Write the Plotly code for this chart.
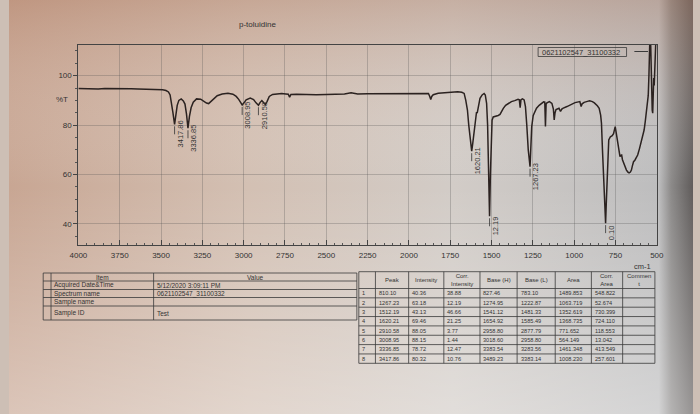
import base64
import math
import plotly.graph_objects as go

# ---------------- data ----------------
title_text = "p-toluidine"
spectrum_name = "0621102547_31100332"
x_tick_unit = "cm-1"
y_axis_label = "%T"

wavenumber = [
    4000, 3960, 3920, 3880, 3840, 3800, 3760, 3720, 3680, 3640, 3600, 3560, 3520, 3490, 3470, 3455, 3445,
    3437, 3428, 3417.86, 3410, 3402, 3392, 3378, 3365, 3355, 3346, 3336.85, 3328, 3318, 3305, 3285, 3260,
    3240, 3225, 3212, 3198, 3180, 3160, 3130, 3095, 3065, 3045, 3030, 3018, 3008.95, 2998, 2985, 2960,
    2940, 2925, 2910.58, 2900, 2890, 2878, 2868, 2858, 2845, 2825, 2800, 2770, 2745, 2730, 2722, 2714,
    2680, 2620, 2560, 2500, 2450, 2390, 2350, 2310, 2250, 2200, 2150, 2100, 2050, 2000, 1950, 1900,
    1882, 1874, 1868, 1862, 1853, 1823, 1764, 1705, 1680, 1666, 1656, 1646, 1638, 1631, 1625, 1620.21,
    1614, 1606, 1600, 1595, 1591, 1587, 1580, 1570, 1557, 1545, 1538, 1530, 1524, 1518, 1512.19, 1507,
    1502, 1497, 1490, 1478, 1460, 1449, 1440, 1429, 1415, 1400, 1380, 1360, 1340, 1332, 1327, 1322,
    1313, 1303, 1295, 1287, 1278, 1267.23, 1262, 1257, 1248, 1238, 1228, 1212, 1199, 1185, 1178, 1174,
    1170, 1165, 1150, 1135, 1126, 1121, 1116, 1110, 1092, 1083, 1075, 1069, 1044, 1024, 995, 966, 958,
    952, 940, 920, 907, 890, 878, 860, 849, 840, 835, 829, 824, 817, 810.10, 805, 800, 795, 791, 781,
    770, 762, 752, 746, 738, 730, 723, 718, 713, 708, 703, 693, 684, 675, 668, 660, 654, 648, 641, 633,
    625, 616, 605, 596, 586, 577, 570, 563, 557, 552, 548, 545, 541, 537, 534, 531, 528, 525, 522, 519,
    516, 512, 508, 504,
]
transmittance = [
    94.8, 94.7, 94.9, 94.6, 94.8, 94.7, 94.8, 94.5, 94.7, 94.6, 94.6, 94.5, 94.5, 94.3, 94.0, 93.4, 92.2,
    89.5, 85.0, 80.32, 84.5, 88.0, 90.0, 90.6, 89.8, 88.5, 84.5, 78.72, 83.5, 87.0, 89.3, 90.6, 90.5,
    89.6, 88.9, 88.7, 89.6, 91.0, 91.9, 92.6, 92.9, 92.5, 91.6, 90.4, 89.0, 88.15, 89.0, 90.2, 90.9,
    90.3, 89.0, 88.05, 89.2, 89.9, 89.0, 88.4, 89.6, 91.6, 92.4, 92.7, 92.8, 92.6, 92.5, 91.3, 92.4,
    92.5, 92.3, 92.3, 92.4, 92.5, 92.6, 93.1, 92.6, 92.7, 92.7, 92.8, 92.9, 92.9, 92.9, 92.9, 92.9,
    92.8, 91.6, 90.4, 91.6, 92.3, 92.9, 93.2, 93.5, 93.3, 92.8, 90.0, 86.1, 80.0, 75.0, 71.0, 69.46,
    72.5, 77.0, 82.0, 84.3, 85.3, 84.8, 88.0, 90.8, 92.2, 92.8, 92.2, 88.8, 80.0, 65.0, 43.13, 60.0,
    75.0, 82.0, 83.3, 83.5, 83.9, 84.3, 85.5, 86.8, 88.0, 88.8, 89.5, 89.9, 90.4, 90.2, 87.0, 90.3,
    90.6, 90.2, 87.5, 80.0, 70.0, 63.18, 71.0, 79.4, 83.9, 85.8, 86.8, 88.0, 88.8, 89.4, 89.3, 79.4,
    88.5, 89.0, 89.5, 88.8, 86.5, 82.1, 85.0, 86.3, 86.8, 85.5, 86.5, 86.8, 87.5, 88.2, 89.1, 89.5, 87.5,
    88.6, 89.2, 89.6, 89.8, 89.5, 89.0, 87.8, 86.8, 84.0, 80.7, 70.0, 60.0, 48.0, 40.36, 50.0, 60.0, 69.0, 74.0, 75.3,
    75.7, 76.5, 79.4, 77.0, 74.0, 70.5, 67.2, 67.8, 67.9, 66.0, 65.2, 63.0, 61.8, 61.0, 60.7, 61.0, 61.8, 63.5, 65.2, 65.8,
    66.6, 67.9, 70.5, 72.6, 75.5, 78.0, 81.5, 84.8, 88.0, 92.0, 100.0, 115.0, 118.0, 112.0, 100.0, 92.0, 86.0, 84.8, 90.0, 99.0,
    96.0, 105.0, 118.0, 118.0,
]

# peak table
peak_wn = [810.10, 1267.23, 1512.19, 1620.21, 2910.58, 3008.95, 3336.85, 3417.86]
peak_int = [40.36, 63.18, 43.13, 69.46, 88.05, 88.15, 78.72, 80.32]
peak_corr_int = [38.88, 12.19, 46.66, 21.25, 3.77, 1.44, 12.47, 10.76]
peak_base_h = [827.46, 1274.95, 1541.12, 1654.92, 2958.80, 3018.60, 3383.54, 3489.23]
peak_base_l = [783.10, 1222.87, 1481.33, 1585.49, 2877.79, 2958.80, 3283.56, 3383.14]
peak_area = [1489.853, 1063.719, 1352.619, 1368.735, 771.652, 564.149, 1461.348, 1008.230]
peak_corr_area = [548.822, 52.674, 730.399, 724.110, 118.553, 13.042, 413.549, 257.601]
peak_headers = ["", "Peak", "Intensity", "Corr.<br>Intensity", "Base (H)", "Base (L)", "Area", "Corr.<br>Area", "Commen<br>t"]

# sample info table
info_headers = ["", "Item", "Value"]
info_items = ["Acquired Date&Time", "Spectrum name", "Sample name", "Sample ID"]
info_values = ["5/12/2020 3:09:11 PM", spectrum_name, "", "Test"]

# ---------------- geometry / style ----------------
W, H = 700, 414
PLOT_L, PLOT_R, PLOT_T, PLOT_B = 71, 663, 45, 245
X_RANGE = [4000, 500]
Y_RANGE = [31.5, 112.4]
FONT = "Liberation Sans, Arial, sans-serif"
TXT = "#333333"
LINE = "#3a3a3a"


def px(x):
    return x / W


def py(y):
    return 1 - y / H


svg = """<svg xmlns="http://www.w3.org/2000/svg" width="700" height="414" viewBox="0 0 700 414" preserveAspectRatio="none">
<defs>
<linearGradient id="h" x1="0" y1="0" x2="1" y2="0">
<stop offset="0" stop-color="#c8a693"/>
<stop offset="0.35" stop-color="#d3c0b3"/>
<stop offset="0.65" stop-color="#d2ccc7"/>
<stop offset="0.95" stop-color="#bdbdbe"/>
<stop offset="0.968" stop-color="#8c8a89"/>
<stop offset="1" stop-color="#5f5b5a"/>
</linearGradient>
<linearGradient id="v" x1="0" y1="0" x2="0" y2="1">
<stop offset="0" stop-color="#b07a60" stop-opacity="0.35"/>
<stop offset="0.45" stop-color="#ffffff" stop-opacity="0"/>
<stop offset="1" stop-color="#ffffff" stop-opacity="0.35"/>
</linearGradient>
</defs>
<rect width="700" height="414" fill="url(#h)"/>
<rect width="700" height="414" fill="url(#v)"/>
</svg>"""
bg_uri = "data:image/svg+xml;base64," + base64.b64encode(svg.encode()).decode()

fig = go.Figure()
fig.add_trace(go.Scatter(
    x=wavenumber, y=transmittance, mode="lines", name=spectrum_name,
    line=dict(color="#2b2220", width=1.5), hoverinfo="x+y",
))

shapes = []
annotations = []

# title
annotations.append(dict(text=title_text, x=px(254), y=py(18), xref="paper", yref="paper",
                        showarrow=False, font=dict(size=8, color=TXT)))
# %T label
annotations.append(dict(text=y_axis_label, x=px(62), y=90.2, xref="paper", yref="y",
                        xanchor="right", yanchor="middle", showarrow=False, font=dict(size=8, color=TXT)))
# cm-1
annotations.append(dict(text=x_tick_unit, x=px(659), y=py(266), xref="paper", yref="paper",
                        showarrow=False, font=dict(size=7.5, color=TXT)))

# legend box
shapes.append(dict(type="rect", xref="paper", yref="paper", x0=px(541.5), x1=px(632), y0=py(56.5), y1=py(47.5),
                   line=dict(color=LINE, width=0.8), fillcolor="rgba(0,0,0,0)"))
annotations.append(dict(text=spectrum_name, x=px(543), y=py(52), xref="paper", yref="paper",
                        xanchor="left", yanchor="middle", showarrow=False, font=dict(size=7.5, color=TXT)))
shapes.append(dict(type="line", xref="paper", yref="paper", x0=px(640), x1=px(654), y0=py(51.5), y1=py(51.5),
                   line=dict(color=LINE, width=1)))

# peak labels (vertical, below each peak; clipped at the axis like the print)
ppu = (PLOT_B - PLOT_T) / (Y_RANGE[1] - Y_RANGE[0])
for w, t in zip(peak_wn, peak_int):
    full = f"{w:.2f}"
    room = (t - Y_RANGE[0]) * ppu - 11
    nchar = min(len(full), max(1, math.ceil(room / 3.6)))
    annotations.append(dict(
        x=w, y=t, xref="x", yref="y", text=full[-nchar:], textangle=-90,
        showarrow=True, arrowhead=0, arrowwidth=0.8, arrowcolor=TXT, ax=0, ay=10, standoff=2,
        xanchor="center", yanchor="top", borderpad=0, font=dict(size=7.5, color=TXT),
    ))


def add_table(col_edges, row_edges, rows, header_font, cell_font, pad):
    top, bottom = row_edges[0], row_edges[-1]
    for xe in col_edges:
        shapes.append(dict(type="line", xref="paper", yref="paper", x0=px(xe), x1=px(xe),
                           y0=py(top), y1=py(bottom), line=dict(color=LINE, width=0.8)))
    for ye in row_edges:
        shapes.append(dict(type="line", xref="paper", yref="paper", x0=px(col_edges[0]), x1=px(col_edges[-1]),
                           y0=py(ye), y1=py(ye), line=dict(color=LINE, width=0.8)))
    for r, row in enumerate(rows):
        yc = (row_edges[r] + row_edges[r + 1]) / 2
        for c, txt in enumerate(row):
            if txt == "":
                continue
            if r == 0:
                annotations.append(dict(text=txt, x=px((col_edges[c] + col_edges[c + 1]) / 2), y=py(yc),
                                        xref="paper", yref="paper", xanchor="center", yanchor="middle",
                                        align="center", showarrow=False, borderpad=0,
                                        font=dict(size=header_font, color=TXT)))
            else:
                annotations.append(dict(text=txt, x=px(col_edges[c] + pad), y=py(yc),
                                        xref="paper", yref="paper", xanchor="left", yanchor="middle",
                                        showarrow=False, borderpad=0, font=dict(size=cell_font, color=TXT)))


# left info table
info_rows = [info_headers] + [["", it, va] for it, va in zip(info_items, info_values)]
add_table([35, 43, 148, 356], [273, 281, 289.5, 297.5, 306, 320], info_rows, 6.5, 6.5, 2.5)

# right peak table
peak_rows = [peak_headers]
for i in range(len(peak_wn)):
    peak_rows.append([
        str(i + 1), f"{peak_wn[i]:.2f}", f"{peak_int[i]:.2f}", f"{peak_corr_int[i]:.2f}",
        f"{peak_base_h[i]:.2f}", f"{peak_base_l[i]:.2f}", f"{peak_area[i]:.3f}", f"{peak_corr_area[i]:.3f}", "",
    ])
row_h = (363.3 - 288.5) / len(peak_wn)
peak_row_edges = [271.7] + [288.5 + k * row_h for k in range(len(peak_wn) + 1)]
add_table([358, 375, 409, 445, 482, 520, 559, 596, 628, 661], peak_row_edges, peak_rows, 6, 5.6, 2.5)

fig.update_layout(
    width=W, height=H, margin=dict(l=0, r=0, t=0, b=0),
    paper_bgcolor="#cdbfb5", plot_bgcolor="rgba(0,0,0,0)", showlegend=False,
    font=dict(family=FONT, color=TXT),
    images=[dict(source=bg_uri, xref="paper", yref="paper", x=0, y=1, sizex=1, sizey=1,
                 xanchor="left", yanchor="top", sizing="stretch", layer="below")],
    xaxis=dict(
        domain=[px(PLOT_L), px(PLOT_R)], range=X_RANGE, tickmode="linear", tick0=500, dtick=250,
        ticks="inside", ticklen=5, tickcolor="#444", tickwidth=0.8, ticklabelstandoff=2,
        showline=True, linecolor="#444", linewidth=1, mirror=True,
        showgrid=True, gridcolor="rgba(80,80,80,0.28)", gridwidth=0.7, zeroline=False,
        minor=dict(dtick=50, ticks="inside", ticklen=2.5, tickcolor="#555", showgrid=False),
        tickfont=dict(size=8, color=TXT),
    ),
    yaxis=dict(
        domain=[py(PLOT_B), py(PLOT_T)], range=Y_RANGE, tickmode="linear", tick0=0, dtick=20,
        ticks="outside", ticklen=4, tickcolor="#444", tickwidth=0.8,
        showline=True, linecolor="#444", linewidth=1, mirror=True,
        showgrid=True, gridcolor="rgba(80,80,80,0.28)", gridwidth=0.7, zeroline=False,
        minor=dict(dtick=5, ticks="outside", ticklen=2.5, tickcolor="#555", showgrid=False),
        tickfont=dict(size=8, color=TXT),
    ),
    shapes=shapes, annotations=annotations,
)

fig.write_html(
    "out.html",
    config={"displayModeBar": False},
    post_script="document.body.style.margin='0px';document.body.style.overflow='hidden';",
)
